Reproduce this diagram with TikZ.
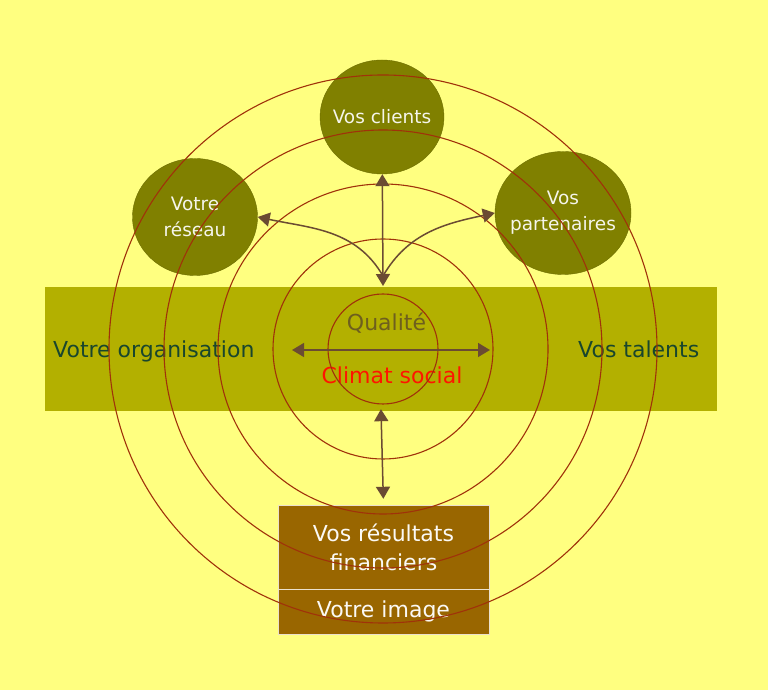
\documentclass[tikz,border=0pt]{standalone}
\usepackage{fontspec}
\setmainfont{DejaVu Sans}
\usetikzlibrary{arrows.meta,shapes.geometric}
\definecolor{paper}{RGB}{255,255,128}
\definecolor{bandcol}{RGB}{179,176,0}
\definecolor{olivecol}{RGB}{128,128,0}
\definecolor{ringcol}{RGB}{160,50,10}
\definecolor{arrowcol}{RGB}{107,75,50}
\definecolor{boxcol}{RGB}{153,102,0}
\definecolor{sidecol}{RGB}{25,70,45}
\definecolor{qualcol}{RGB}{110,95,30}
\definecolor{climcol}{RGB}{255,20,0}

\begin{document}
\begin{tikzpicture}[x=1pt,y=1pt,>={Triangle[width=14pt,length=12pt]}]
\tikzstyle{every node}=[]
\tikzstyle{actor}=[draw=olivecol!85!black, fill=olivecol, ellipse, inner sep=0pt]
\tikzstyle{actortext}=[inner sep=0pt, text=white!92!olivecol, align=center, font=\fontsize{18.5}{26}\selectfont]
\tikzstyle{outcome}=[draw=white!80!boxcol, fill=boxcol, inner sep=0pt, minimum width=211pt, text=white!96!boxcol, align=center, font=\fontsize{22}{29}\selectfont]
\tikzstyle{word}=[inner sep=0pt, font=\fontsize{22}{29}\selectfont]
\tikzstyle{ring}=[draw=ringcol, line width=1.1pt]
\tikzstyle{link}=[draw=arrowcol, line width=1.5pt]

\fill[paper] (0,0) rectangle (768,690);
\useasboundingbox (0,0) rectangle (768,690);

\node[fill=bandcol, inner sep=0pt, minimum width=672pt, minimum height=124pt] (band) at (381,341) {};

\node[actor, minimum width=124pt, minimum height=114pt] (clients) at (382,573) {};
\node[actor, minimum width=125pt, minimum height=117pt] (reseau) at (195,473) {};
\node[actor, minimum width=136pt, minimum height=123pt] (partenaires) at (563,477) {};
\node[actortext] at (clients) {Vos clients};
\node[actortext] at (reseau) {Votre\\réseau};
\node[actortext] at (partenaires) {Vos\\partenaires};

\node[outcome, minimum height=84pt] (results) at (383.5,143) {Vos résultats\\financiers};
\node[outcome, minimum height=45pt, anchor=north] (image) at (results.south) {Votre image};

\node[word, text=qualcol, anchor=base] (qualite) at (386.5,359) {Qualité};
\node[word, text=climcol, anchor=base] (climat) at (392,306) {Climat social};
\node[word, text=sidecol, anchor=base west] (organisation) at (53,332) {Votre organisation};
\node[word, text=sidecol, anchor=base west] (talents) at (578,332) {Vos talents};

% concentric rings
\coordinate (ctr) at (383,341);
\foreach \r in {55,110,165,219,274}
  \draw[ring] (ctr) circle (\r pt);

% arrows
\coordinate (hub) at (383,404);
\coordinate (fork) at (383,414);
\coordinate (qleft) at (292,340);
\coordinate (qright) at (490,340);
\draw[link, <->] (clients) -- (hub);
\draw[link, ->] (fork) to[out=120, in=-12] (reseau.east);
\draw[link, ->] (fork) to[out=60, in=192] (partenaires.west);
\draw[link, <->] (qleft) -- (qright);
\draw[link, <->, shorten <=-2pt, shorten >=6pt] (band.south) -- (results.north);
\end{tikzpicture}
\end{document}
